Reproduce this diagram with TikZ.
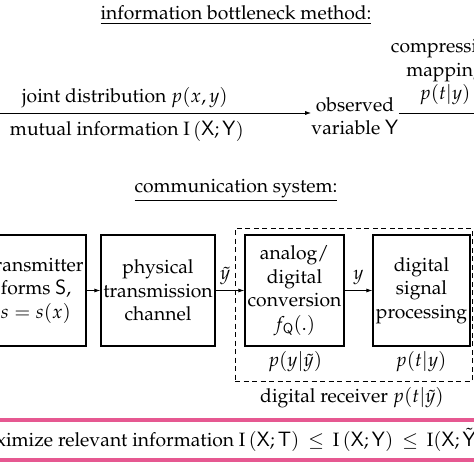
\documentclass[tikz,border=0pt]{standalone}
\usepackage[T1]{fontenc}
\usepackage{mathpazo}
\usetikzlibrary{arrows.meta}
\definecolor{pinkframe}{RGB}{230,88,145}
\tikzset{
  txt/.style={font=\fontsize{19.3}{23.5}\selectfont, align=center, inner sep=0pt},
  blk/.style={draw, line width=1.3pt, txt, minimum height=111pt},
  conn/.style={line width=0.8pt, -{Latex[length=6pt,width=4pt]}},
}
\begin{document}
\begin{tikzpicture}[x=1pt,y=-1pt]
\clip (0,0) rectangle (474,474);
\useasboundingbox (0,0) rectangle (474,474);
% top section
\node[txt] (t1) at (236,15) {\underline{information bottleneck method:}};
\coordinate (a0) at (-5,113);
\node[txt] (obs) at (355,116) {observed\\variable $\mathsf{Y}$};
\draw[conn] (a0) -- (a0 -| obs.west);
\node[txt] (jd) at (125,98) {joint distribution $p(x,y)$};
\node[txt] (mi) at (127,131) {mutual information $\mathrm{I}\left(\mathsf{X};\mathsf{Y}\right)$};
\node[txt] (cm) at (445,72) {compression\\mapping\\$p(t|y)$};
\coordinate (a1) at (490,113);
\draw[line width=0.8pt] (a1 -| obs.east) -- (a1);
% communication system
\node[txt] (t2) at (236,190) {\underline{communication system:}};
\node[blk, minimum width=100pt] (tx) at (36,290.5) {transmitter\\forms $\mathsf{S}$,\\$s=s(x)$};
\node[blk, minimum width=114pt] (ch) at (158,290.5) {physical\\transmission\\channel};
\node[blk, minimum width=99pt] (ad) at (294.5,290.5) {analog/\\digital\\conversion\\$f_{\mathsf{Q}}(.)$};
\node[blk, minimum width=97pt] (dsp) at (421.5,290.5) {digital\\signal\\processing};
\draw[conn] (tx) -- (ch);
\draw[conn] (ch) -- node[txt, above=5pt, pos=0.33] (yt) {$\tilde{y}$} (ad);
\draw[conn] (ad) -- node[txt, above=5pt] (yy) {$y$} (dsp);
\node[txt] (pyy) at (295,362) {$p(y|\tilde{y})$};
\node[txt] (pty) at (421,362) {$p(t|y)$};
\node[draw, dash pattern=on 5pt off 3.5pt, line width=0.9pt, inner sep=0pt, minimum width=237pt, minimum height=153pt] (rx) at (353.5,304.5) {};
\node[txt] (rxl) at (352,398) {digital receiver $p(t|\tilde{y})$};
% bottom frame
\node[draw=pinkframe, line width=4pt, inner sep=0pt, minimum width=500pt, minimum height=40pt] (fr) at (237,440) {};
\node[txt, anchor=west] (mx) at (-32,440) {Maximize relevant information $\mathrm{I}\left(\mathsf{X};\mathsf{T}\right)\,\leq\,\mathrm{I}\left(\mathsf{X};\mathsf{Y}\right)\,\leq\,\mathrm{I}(\mathsf{X};\tilde{\mathsf{Y}})$};
\end{tikzpicture}
\end{document}
